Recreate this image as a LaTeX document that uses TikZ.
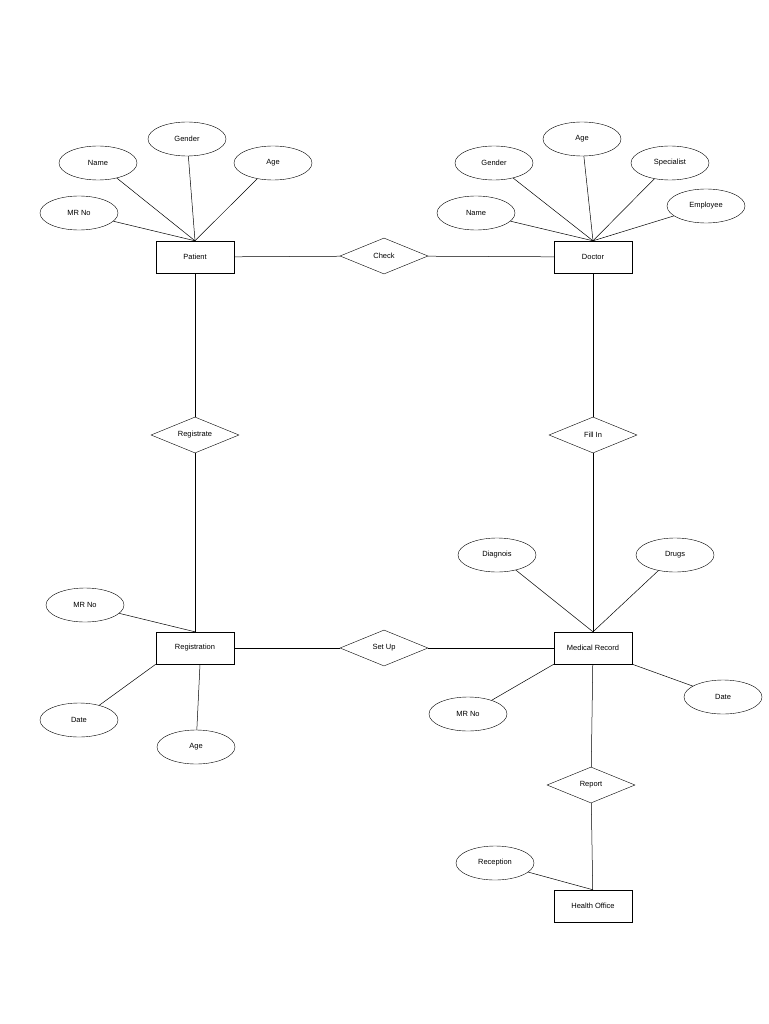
\documentclass[tikz,border=0pt]{standalone}
\usepackage{fontspec}
\setmainfont{Liberation Sans}
\usetikzlibrary{shapes.geometric}
\begin{document}
\begin{tikzpicture}[x=1pt,y=-1pt,
  every node/.style={font=\fontsize{7.5}{9}\selectfont},
  ent/.style={draw,minimum width=78pt,minimum height=32pt,inner sep=0},
  rel/.style={draw,diamond,aspect=2.4,minimum width=88pt,minimum height=36pt,inner sep=0},
  att/.style={draw,ellipse,minimum width=78pt,minimum height=34pt,inner sep=0},
  line/.style={draw,line width=0.5pt}]
\useasboundingbox (0,0) rectangle (768,1024);
\node[ent] (pat) at (195,257) {Patient};
\node[ent] (doc) at (593,257) {Doctor};
\node[ent] (reg) at (195,648) {Registration};
\node[ent] (med) at (593,648) {Medical Record};
\node[ent] (ho) at (593,906) {Health Office};
\node[rel] (check) at (384,256) {Check};
\node[rel] (regr) at (195,435) {Registrate};
\node[rel] (fill) at (593,435) {Fill In};
\node[rel] (setup) at (384,648) {Set Up};
\node[rel] (rep) at (591,785) {Report};
\node[att] (pname) at (98,163) {Name};
\node[att] (pgen) at (187,139) {Gender};
\node[att] (page) at (273,163) {Age};
\node[att] (pmr) at (79,213) {MR No};
\node[att] (dgen) at (494,163) {Gender};
\node[att] (dage) at (582,139) {Age};
\node[att] (dspec) at (670,163) {Specialist};
\node[att] (demp) at (706,206) {Employee};
\node[att] (dname) at (476,213) {Name};
\node[att] (rmr) at (85,605) {MR No};
\node[att] (rdate) at (79,720) {Date};
\node[att] (rage) at (196,747) {Age};
\node[att] (mdiag) at (497,555) {Diagnois};
\node[att] (mdrug) at (675,555) {Drugs};
\node[att] (mmr) at (468,714) {MR No};
\node[att] (mdate) at (723,697) {Date};
\node[att] (rec) at (495,863) {Reception};
\foreach \a in {pname,pgen,page,pmr} \draw[line] (\a) -- (pat.north);
\foreach \a in {dgen,dage,dspec,demp,dname} \draw[line] (\a) -- (doc.north);
\draw[line] (pat) -- (check) -- (doc);
\draw[line] (pat) -- (regr) -- (reg);
\draw[line] (doc) -- (fill) -- (med);
\draw[line] (reg) -- (setup) -- (med);
\draw[line] (med) -- (rep) -- (ho);
\draw[line] (rmr) -- (reg.north);
\draw[line] (rdate) -- (reg.south west);
\draw[line] (rage) -- ([xshift=5pt]reg.south);
\draw[line] (mdiag) -- (med.north);
\draw[line] (mdrug) -- (med.north);
\draw[line] (mmr) -- (med.south west);
\draw[line] (mdate) -- (med.south east);
\draw[line] (rec) -- (ho.north);
\end{tikzpicture}
\end{document}
